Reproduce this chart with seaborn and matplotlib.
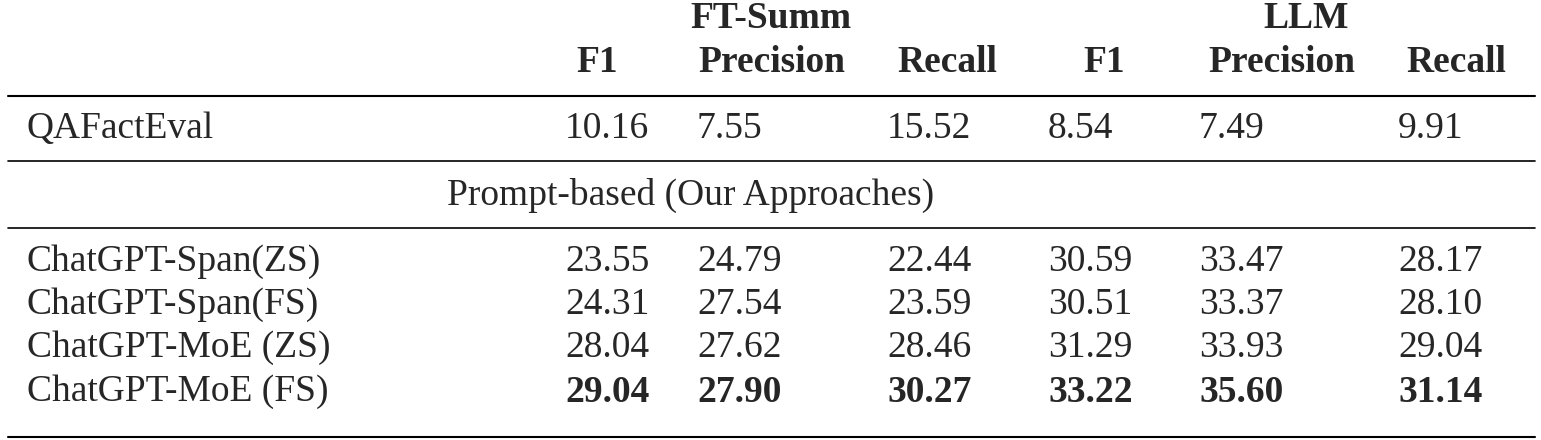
import matplotlib
matplotlib.use("Agg")
import matplotlib.pyplot as plt
import seaborn as sns

sns.set_theme(style="white")
plt.rcParams['font.family'] = ['Liberation Serif', 'DejaVu Serif']

W, H = 1541, 440

groups = ["FT-Summ", "LLM"]
metrics = ["F1", "Precision", "Recall", "F1", "Precision", "Recall"]
baseline_name = "QAFactEval"
baseline_vals = ["10.16", "7.55", "15.52", "8.54", "7.49", "9.91"]
section_label = "Prompt-based (Our Approaches)"
methods = ["ChatGPT-Span(ZS)", "ChatGPT-Span(FS)", "ChatGPT-MoE (ZS)", "ChatGPT-MoE (FS)"]
method_vals = [
    ["23.55", "24.79", "22.44", "30.59", "33.47", "28.17"],
    ["24.31", "27.54", "23.59", "30.51", "33.37", "28.10"],
    ["28.04", "27.62", "28.46", "31.29", "33.93", "29.04"],
    ["29.04", "27.90", "30.27", "33.22", "35.60", "31.14"],
]
bold_row = 3

fig = plt.figure(figsize=(W / 100, H / 100), dpi=100)
ax = fig.add_axes([0, 0, 1, 1])
ax.set_xlim(0, W)
ax.set_ylim(H, 0)
ax.axis("off")

fs = 27
col_x = [565, 697, 887, 1048, 1199, 1398]
head_right = [618, 845, 997, 1125, 1355, 1506]
group_x = [771, 1306]

for g, x in zip(groups, group_x):
    ax.text(x, 18, g, ha="center", va="center", fontsize=fs, fontweight="bold")
for m, x in zip(metrics, head_right):
    ax.text(x, 62, m, ha="right", va="center", fontsize=fs, fontweight="bold")

for y, lw in [(96, 1.5), (161, 1.2), (228, 1.2), (437, 1.5)]:
    ax.plot([8, 1535], [y, y], color="black", lw=lw)

ax.text(27, 129, baseline_name, ha="left", va="center", fontsize=fs)
for v, x in zip(baseline_vals, col_x):
    ax.text(x, 129, v, ha="left", va="center", fontsize=fs)

ax.text(691, 195, section_label, ha="center", va="center", fontsize=fs)

row_y = [262, 305, 348, 392]
for i, (name, vals, y) in enumerate(zip(methods, method_vals, row_y)):
    ax.text(27, y, name, ha="left", va="center", fontsize=fs)
    for v, x in zip(vals, col_x):
        ax.text(x, y, v, ha="left", va="center", fontsize=fs,
                fontweight="bold" if i == bold_row else "normal")

fig.savefig("out.png", dpi=100)
